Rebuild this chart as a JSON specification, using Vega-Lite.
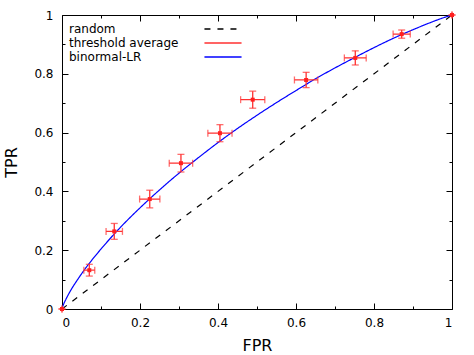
{
  "$schema": "https://vega.github.io/schema/vega-lite/v6.json",
  "width": 390,
  "height": 294,
  "autosize": {"type": "none"},
  "padding": {"left": 62, "top": 15, "right": 22, "bottom": 46},
  "config": {
    "font": "DejaVu Sans",
    "view": {"stroke": "black", "strokeWidth": 1},
    "axis": {
      "domain": false,
      "grid": false,
      "tickColor": "black",
      "tickWidth": 1,
      "labelColor": "black",
      "labelFont": "DejaVu Sans",
      "labelFontSize": 12,
      "titleFont": "DejaVu Sans",
      "titleFontSize": 16,
      "titleFontWeight": "normal",
      "titleColor": "black"
    },
    "legend": {
      "orient": "none",
      "legendX": 5,
      "legendY": 6,
      "symbolType": "M-2.65,0H2.65",
      "symbolSize": 196,
      "symbolStrokeWidth": 1.3,
      "labelFontSize": 12,
      "labelFont": "DejaVu Sans",
      "labelColor": "black",
      "rowPadding": 0,
      "symbolOffset": 148,
      "labelOffset": -162,
      "title": null
    }
  },
  "datasets": {
    "roc": [
      {"fpr": 0, "tpr": 0, "fprLo": 0, "fprHi": 0, "tprLo": 0, "tprHi": 0},
      {"fpr": 0.07, "tpr": 0.132, "fprLo": 0.056, "fprHi": 0.084, "tprLo": 0.112, "tprHi": 0.152},
      {"fpr": 0.134, "tpr": 0.264, "fprLo": 0.113, "fprHi": 0.155, "tprLo": 0.237, "tprHi": 0.291},
      {"fpr": 0.225, "tpr": 0.374, "fprLo": 0.199, "fprHi": 0.251, "tprLo": 0.344, "tprHi": 0.404},
      {"fpr": 0.305, "tpr": 0.496, "fprLo": 0.275, "fprHi": 0.335, "tprLo": 0.466, "tprHi": 0.526},
      {"fpr": 0.405, "tpr": 0.598, "fprLo": 0.374, "fprHi": 0.436, "tprLo": 0.569, "tprHi": 0.627},
      {"fpr": 0.489, "tpr": 0.712, "fprLo": 0.458, "fprHi": 0.52, "tprLo": 0.683, "tprHi": 0.741},
      {"fpr": 0.626, "tpr": 0.779, "fprLo": 0.596, "fprHi": 0.656, "tprLo": 0.753, "tprHi": 0.805},
      {"fpr": 0.752, "tpr": 0.854, "fprLo": 0.724, "fprHi": 0.78, "tprLo": 0.83, "tprHi": 0.878},
      {"fpr": 0.871, "tpr": 0.935, "fprLo": 0.849, "fprHi": 0.893, "tprLo": 0.921, "tprHi": 0.949},
      {"fpr": 1, "tpr": 1, "fprLo": 1, "fprHi": 1, "tprLo": 1, "tprHi": 1}
    ],
    "curve": [
      {"fpr": 0, "tpr": 0},
      {"fpr": 0.001, "tpr": 0.0051},
      {"fpr": 0.005, "tpr": 0.019},
      {"fpr": 0.01, "tpr": 0.033},
      {"fpr": 0.02, "tpr": 0.058},
      {"fpr": 0.04, "tpr": 0.1},
      {"fpr": 0.06, "tpr": 0.138},
      {"fpr": 0.08, "tpr": 0.172},
      {"fpr": 0.1, "tpr": 0.204},
      {"fpr": 0.15, "tpr": 0.278},
      {"fpr": 0.2, "tpr": 0.344},
      {"fpr": 0.25, "tpr": 0.405},
      {"fpr": 0.3, "tpr": 0.462},
      {"fpr": 0.35, "tpr": 0.515},
      {"fpr": 0.4, "tpr": 0.566},
      {"fpr": 0.45, "tpr": 0.614},
      {"fpr": 0.5, "tpr": 0.659},
      {"fpr": 0.55, "tpr": 0.702},
      {"fpr": 0.6, "tpr": 0.743},
      {"fpr": 0.65, "tpr": 0.783},
      {"fpr": 0.7, "tpr": 0.82},
      {"fpr": 0.75, "tpr": 0.855},
      {"fpr": 0.8, "tpr": 0.889},
      {"fpr": 0.85, "tpr": 0.921},
      {"fpr": 0.9, "tpr": 0.95},
      {"fpr": 0.95, "tpr": 0.977},
      {"fpr": 0.98, "tpr": 0.9916},
      {"fpr": 0.99, "tpr": 0.996},
      {"fpr": 1, "tpr": 1}
    ],
    "diag": [
      {"fpr": 0, "tpr": 0},
      {"fpr": 1, "tpr": 1}
    ]
  },
  "layer": [
    {
      "data": {"name": "diag"},
      "transform": [{"calculate": "'random'", "as": "series"}],
      "mark": {"type": "line", "strokeWidth": 1.2, "clip": true},
      "encoding": {
        "x": {"field": "fpr", "type": "quantitative", "scale": {"domain": [0, 1], "nice": false},
          "axis": {"orient": "top", "labels": false, "title": null,
            "values": [0, 0.1, 0.2, 0.3, 0.4, 0.5, 0.6, 0.7, 0.8, 0.9, 1],
            "tickSize": {"condition": {"test": "abs(datum.value*5 - round(datum.value*5)) < 0.01", "value": -6}, "value": -3}}},
        "y": {"field": "tpr", "type": "quantitative", "scale": {"domain": [0, 1], "nice": false},
          "axis": {"orient": "right", "labels": false, "title": null,
            "values": [0, 0.1, 0.2, 0.3, 0.4, 0.5, 0.6, 0.7, 0.8, 0.9, 1],
            "tickSize": {"condition": {"test": "abs(datum.value*5 - round(datum.value*5)) < 0.01", "value": -6}, "value": -3}}},
        "color": {"field": "series", "type": "nominal",
          "scale": {"domain": ["random", "threshold average", "binormal-LR"], "range": ["black", "#ff3030", "#0000ff"]}},
        "strokeDash": {"field": "series", "type": "nominal",
          "scale": {"domain": ["random", "threshold average", "binormal-LR"], "range": [[6, 7], [1, 0], [1, 0]]}}
      }
    },
    {
      "data": {"name": "curve"},
      "transform": [{"calculate": "'binormal-LR'", "as": "series"}],
      "mark": {"type": "line", "strokeWidth": 1.2, "interpolate": "monotone"},
      "encoding": {
        "x": {"field": "fpr", "type": "quantitative",
          "axis": {"orient": "bottom", "title": "FPR", "titlePadding": 9, "labelPadding": 14,
            "values": [0, 0.1, 0.2, 0.3, 0.4, 0.5, 0.6, 0.7, 0.8, 0.9, 1],
            "labelExpr": "abs(datum.value*5 - round(datum.value*5)) < 0.01 ? format(datum.value, '~g') : ''",
            "tickSize": {"condition": {"test": "abs(datum.value*5 - round(datum.value*5)) < 0.01", "value": -6}, "value": -3}}},
        "y": {"field": "tpr", "type": "quantitative",
          "axis": {"orient": "left", "title": "TPR", "titlePadding": 14, "labelPadding": 15,
            "values": [0, 0.1, 0.2, 0.3, 0.4, 0.5, 0.6, 0.7, 0.8, 0.9, 1],
            "labelExpr": "abs(datum.value*5 - round(datum.value*5)) < 0.01 ? format(datum.value, '~g') : ''",
            "tickSize": {"condition": {"test": "abs(datum.value*5 - round(datum.value*5)) < 0.01", "value": -6}, "value": -3}}},
        "color": {"field": "series", "type": "nominal"},
        "strokeDash": {"field": "series", "type": "nominal"}
      }
    },
    {
      "data": {"name": "roc"},
      "transform": [{"calculate": "'threshold average'", "as": "series"}],
      "mark": {"type": "rule", "strokeWidth": 1.3},
      "encoding": {
        "x": {"field": "fprLo", "type": "quantitative", "axis": null},
        "x2": {"field": "fprHi"},
        "y": {"field": "tpr", "type": "quantitative", "axis": null},
        "color": {"field": "series", "type": "nominal"},
        "strokeDash": {"field": "series", "type": "nominal"}
      }
    },
    {
      "data": {"name": "roc"},
      "transform": [{"calculate": "'threshold average'", "as": "series"}],
      "mark": {"type": "rule", "strokeWidth": 1.3},
      "encoding": {
        "x": {"field": "fpr", "type": "quantitative", "axis": null},
        "y": {"field": "tprLo", "type": "quantitative", "axis": null},
        "y2": {"field": "tprHi"},
        "color": {"field": "series", "type": "nominal"},
        "strokeDash": {"field": "series", "type": "nominal"}
      }
    },
    {
      "data": {"name": "roc"},
      "mark": {"type": "tick", "orient": "vertical", "size": 7, "thickness": 1.3, "color": "#ff3030"},
      "encoding": {
        "x": {"field": "fprLo", "type": "quantitative", "axis": null},
        "y": {"field": "tpr", "type": "quantitative", "axis": null}
      }
    },
    {
      "data": {"name": "roc"},
      "mark": {"type": "tick", "orient": "vertical", "size": 7, "thickness": 1.3, "color": "#ff3030"},
      "encoding": {
        "x": {"field": "fprHi", "type": "quantitative", "axis": null},
        "y": {"field": "tpr", "type": "quantitative", "axis": null}
      }
    },
    {
      "data": {"name": "roc"},
      "mark": {"type": "tick", "orient": "horizontal", "size": 7, "thickness": 1.3, "color": "#ff3030"},
      "encoding": {
        "x": {"field": "fpr", "type": "quantitative", "axis": null},
        "y": {"field": "tprLo", "type": "quantitative", "axis": null}
      }
    },
    {
      "data": {"name": "roc"},
      "mark": {"type": "tick", "orient": "horizontal", "size": 7, "thickness": 1.3, "color": "#ff3030"},
      "encoding": {
        "x": {"field": "fpr", "type": "quantitative", "axis": null},
        "y": {"field": "tprHi", "type": "quantitative", "axis": null}
      }
    },
    {
      "data": {"name": "roc"},
      "mark": {"type": "point", "shape": "square", "size": 16, "filled": true, "color": "#ff2020", "opacity": 1, "clip": false},
      "encoding": {
        "x": {"field": "fpr", "type": "quantitative", "axis": null},
        "y": {"field": "tpr", "type": "quantitative", "axis": null}
      }
    }
  ]
}
